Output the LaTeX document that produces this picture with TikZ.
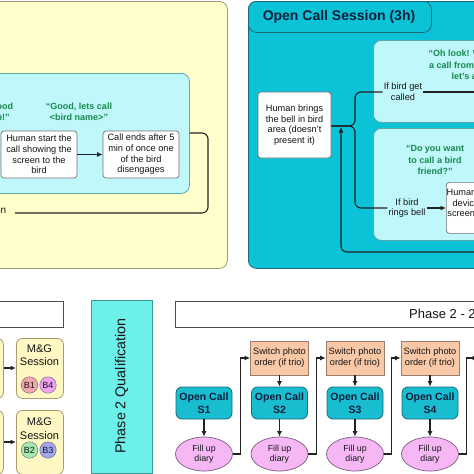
\documentclass[tikz,border=0pt]{standalone}
\usepackage{fontspec}
\setmainfont{Liberation Sans}
\usetikzlibrary{arrows.meta,shapes.geometric}
\newcommand{\fsz}[2]{\fontsize{#1}{#2}\selectfont}
\definecolor{ypanel}{HTML}{FFFFCC}
\definecolor{ypanelb}{HTML}{9E9A7E}
\definecolor{lcyan}{HTML}{C0F7FA}
\definecolor{lcyanb}{HTML}{5FA8B0}
\definecolor{tealfill}{HTML}{0BC3D6}
\definecolor{tealb}{HTML}{1D6A76}
\definecolor{gtext}{HTML}{178A4C}
\definecolor{peach}{HTML}{F9C8A6}
\definecolor{peachb}{HTML}{9A7C6A}
\definecolor{pinkv}{HTML}{F5B8F5}
\definecolor{pinkvb}{HTML}{7A5A80}
\definecolor{aqua}{HTML}{6EF0EA}
\definecolor{aquab}{HTML}{3A9A9A}
\definecolor{mgy}{HTML}{FFF8C4}
\definecolor{mgyb}{HTML}{A89C6A}
\definecolor{bone}{HTML}{F4A6AE}
\definecolor{bfour}{HTML}{F0A2F2}
\definecolor{btwo}{HTML}{A6EAB0}
\definecolor{bthree}{HTML}{A4A6F2}
\definecolor{ocfill}{HTML}{19BDD0}
\definecolor{octext}{HTML}{0E1E3C}
\definecolor{linec}{HTML}{222222}
\definecolor{txtc}{HTML}{151515}
\tikzset{
 conn/.style={draw=linec, line width=1.1pt},
 arr/.style={conn, -{Latex[length=5.5pt,width=5pt]}},
 panelbox/.style={rounded corners=8pt, line width=0.8pt, inner sep=0pt, anchor=north west},
 wbox/.style={draw=black!55, fill=white, rounded corners=3pt, line width=0.7pt, align=center, inner sep=0pt, text=txtc, font=\fsz{9.2}{10.6}},
 gtxt/.style={text=gtext, align=center, inner sep=0pt, font=\bfseries\fsz{9}{11.3}},
 plain/.style={align=center, inner sep=1pt, text=txtc, font=\fsz{9.2}{10.6}},
 swbox/.style={draw=peachb, fill=peach, minimum width=58pt, minimum height=34pt, inner sep=0pt, align=center, text=txtc, font=\fsz{9.2}{10.8}, line width=0.7pt},
 ocbox/.style={draw=tealb, fill=ocfill, rounded corners=6pt, minimum width=56pt, minimum height=32pt, inner sep=0pt, align=center, font=\bfseries\fsz{10.5}{13}, text=octext, line width=0.8pt},
 diary/.style={ellipse, draw=pinkvb, fill=pinkv, minimum width=57pt, minimum height=34pt, inner sep=0pt, align=center, text=txtc, font=\fsz{8.8}{10.5}, line width=0.7pt},
 hdr/.style={draw=black!70, fill=white, line width=0.9pt, anchor=north west, inner sep=0pt},
 mgbox/.style={draw=mgyb, fill=mgy, rounded corners=6pt, line width=0.8pt, anchor=north west, inner sep=0pt},
 bcirc/.style={circle, draw=black!60, minimum size=16.5pt, inner sep=0pt, text=txtc, font=\fsz{9}{10}},
}
\begin{document}
\begin{tikzpicture}[x=1pt,y=-1pt]
\useasboundingbox (0,0) rectangle (474,474);
% ---------- top-left yellow panel ----------
\node[panelbox, draw=ypanelb, fill=ypanel, minimum width=247pt, minimum height=267pt] (yp) at (-20,1) {};
\node[panelbox, draw=lcyanb, fill=lcyan, minimum width=209pt, minimum height=120pt] (cp) at (-20,73) {};
\node[gtxt] (g1) at (-1,113) {“Good\\job!”};
\node[gtxt] (g2) at (79,112) {“Good, lets call\\<bird name>”};
\node[wbox, minimum width=76pt, minimum height=47pt] (ha) at (39,154.5) {Human start the\\call showing the\\screen to the\\bird};
\node[wbox, minimum width=76pt, minimum height=47pt] (ce) at (141,154.5) {Call ends after 5\\min of once one\\of the bird\\disengages};
\draw[arr] (ha) -- (ce);
\node[plain, anchor=east, font=\fsz{10}{12}] (es) at (7.5,210) {End session};
\coordinate (r1) at (208,133);
\coordinate (endl) at (15,213);
\draw[conn, rounded corners=6pt] (cp.east |- r1) -- (r1) |- (endl);
% ---------- top-right teal panel ----------
\node[panelbox, draw=tealb, fill=tealfill, minimum width=250pt, minimum height=267pt] (tp) at (248,1) {};
\node[panelbox, draw=tealb, fill=tealfill, minimum width=183pt, minimum height=31pt] (tab) at (248,1) {};
\node[text=octext, font=\bfseries\fsz{14}{16}, inner sep=0pt] (tabt) at (339,17) {Open Call Session (3h)};
\node[panelbox, draw=lcyanb, fill=lcyan, minimum width=120pt, minimum height=82pt] (sp1) at (373,40) {};
\node[panelbox, draw=lcyanb, fill=lcyan, minimum width=120pt, minimum height=112pt] (sp2) at (373,128) {};
\node[wbox, minimum width=73pt, minimum height=66pt] (hb) at (294.5,125) {Human brings\\the bell in bird\\area (doesn’t\\present it)};
\node[gtxt] (g3) at (481,65) {“Oh look! We have got a\\a call from <bird name>,\\let's answer!”};
\node[gtxt] (g4) at (435,160) {“Do you want\\to call a bird\\friend?”};
\node[plain] (ifc) at (403,92) {If bird get\\called};
\node[plain] (irb) at (407,208) {If bird\\rings bell};
\node[wbox, minimum width=74pt, minimum height=51pt, anchor=north west] (hd) at (446,182) {};
\node[plain] (hdt) at (483,203) {Human brings the\\device with the\\screen to the bird};
\coordinate (j) at (355,126);
\draw[conn, rounded corners=6pt] (hb.east |- j) -- (j) |- (ifc.west);
\draw[conn, rounded corners=6pt] (hb.east |- j) -- (j) |- (irb.west);
\coordinate (offr) at (480,90);
\draw[conn] (ifc.east) -- (ifc.east -| offr);
\draw[arr] (irb.east) -- (hd.west |- irb.east);
\coordinate (ret) at (480,252);
\coordinate (jin) at (341,127);
\draw[arr, rounded corners=6pt] (ret) -| (jin);
% ---------- bottom ----------
\node[hdr, minimum width=83pt, minimum height=26pt] (h1) at (-20,301) {};
\node[hdr, minimum width=325pt, minimum height=26pt] (h2) at (175,301) {};
\node[anchor=west, inner sep=0pt, text=txtc, font=\fsz{13}{15}] (h2t) at (409,314) {Phase 2 - 2 weeks};
\node[panelbox, rounded corners=0pt, draw=aquab, fill=aqua, minimum width=61pt, minimum height=173pt] (pq) at (91,300) {};
\node[rotate=90, text=txtc, font=\fsz{14.3}{16}, inner sep=0pt] (pqt) at (121.5,386) {Phase 2 Qualification};
% M&G
\node[mgbox, minimum width=33pt, minimum height=60pt] (l1) at (-30,338) {};
\node[mgbox, minimum width=33pt, minimum height=64pt] (l2) at (-30,410) {};
\node[mgbox, minimum width=47pt, minimum height=60pt] (m1) at (16,338) {};
\node[mgbox, minimum width=47pt, minimum height=64pt] (m2) at (16,410) {};
\node[text=txtc, font=\fsz{11}{13.5}, align=center, inner sep=0pt] (m1t) at (39.5,355) {M\&G\\Session};
\node[text=txtc, font=\fsz{11}{13.5}, align=center, inner sep=0pt] (m2t) at (39.5,428.5) {M\&G\\Session};
\node[bcirc, fill=bone] (b1) at (29.5,385) {B1};
\node[bcirc, fill=bfour] (b4) at (48,385) {B4};
\node[bcirc, fill=btwo] (b2) at (29.5,450) {B2};
\node[bcirc, fill=bthree] (b3) at (48,450) {B3};
\draw[arr] (l1.east |- 0,368) -- (m1.west |- 0,368);
\draw[arr] (l2.east |- 0,442) -- (m2.west |- 0,442);
% Phase 2 flow
\node[ocbox] (o1) at (204,403) {Open Call\\S1};
\node[diary] (e1) at (204,454) {Fill up\\diary};
\node[swbox] (s2) at (279.5,358) {Switch photo\\order (if trio)};
\node[ocbox] (o2) at (279.5,403) {Open Call\\S2};
\node[diary] (e2) at (279.5,454) {Fill up\\diary};
\node[swbox] (s3) at (355,358) {Switch photo\\order (if trio)};
\node[ocbox] (o3) at (355,403) {Open Call\\S3};
\node[diary] (e3) at (355,454) {Fill up\\diary};
\node[swbox] (s4) at (430,358) {Switch photo\\order (if trio)};
\node[ocbox] (o4) at (430,403) {Open Call\\S4};
\node[diary] (e4) at (430,454) {Fill up\\diary};
\coordinate (nx) at (478,358);
\foreach \a/\b in {s2/o2,s3/o3,s4/o4,o1/e1,o2/e2,o3/e3,o4/e4}{\draw[arr] (\a) -- (\b);}
\draw[arr] (e1.east) -- ++(8,0) |- (s2.west);
\draw[arr] (e2.east) -- ++(8,0) |- (s3.west);
\draw[arr] (e3.east) -- ++(8,0) |- (s4.west);
\draw[arr] (e4.east) -- ++(8,0) |- (nx);
\end{tikzpicture}
\end{document}
